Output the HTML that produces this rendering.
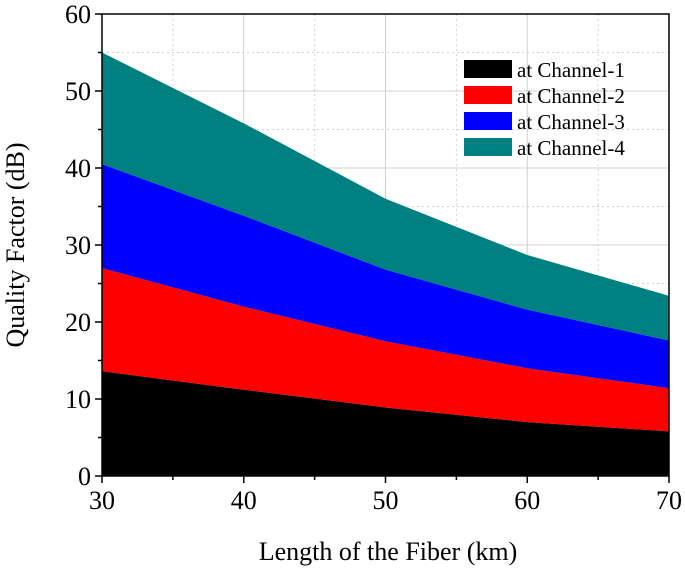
<!DOCTYPE html>
<html><head><meta charset="utf-8"><style>
html,body{margin:0;padding:0;background:#fff;}
svg{display:block;font-family:"Liberation Serif",serif;}
</style></head><body>
<svg id="chart" width="685" height="571" xmlns="http://www.w3.org/2000/svg">
<g id="grid"></g>
<g id="areas"></g>
<g id="axes"></g>
<g id="legend"></g>
<text x="388" y="560" font-size="26" text-anchor="middle">Length of the Fiber (km)</text>
<text transform="translate(24,245) rotate(-90)" font-size="26" text-anchor="middle">Quality Factor (dB)</text>
</svg>
<script>
const xValues=[30,40,50,60,70];
const ch1=[13.6,11.2,8.9,7.0,5.8];
const ch2=[13.4,10.8,8.6,7.0,5.6];
const ch3=[13.5,11.8,9.3,7.6,6.2];
const ch4=[14.5,12.0,9.2,7.1,5.8];
const seriesNames=["at Channel-1","at Channel-2","at Channel-3","at Channel-4"];
const xTicks=[30,40,50,60,70];
const yTicks=[0,10,20,30,40,50,60];
const colors=["#000000","#ff0000","#0000ff","#008080"];
const L=102,R=669,T=14,B=476;
const sx=v=>L+(v-30)/40*(R-L);
const sy=v=>B-v/60*(B-T);
const NS="http://www.w3.org/2000/svg";
function mk(tag,attrs,parent){const e=document.createElementNS(NS,tag);for(const k in attrs)e.setAttribute(k,attrs[k]);parent.appendChild(e);return e;}
const grid=document.getElementById('grid');
for(let v=30;v<=70;v+=5){const l=mk('line',{x1:sx(v),x2:sx(v),y1:T,y2:B,stroke:'#d0d0d0','stroke-width':1,'stroke-dasharray':v%10?'2,3':'none'},grid);

}
for(let v=0;v<=60;v+=5){const l=mk('line',{x1:L,x2:R,y1:sy(v),y2:sy(v),stroke:'#d0d0d0','stroke-width':1,'stroke-dasharray':v%10?'2,3':'none'},grid);

}
const series=[ch1,ch2,ch3,ch4];
const areas=document.getElementById('areas');
let base=xValues.map(()=>0);
series.forEach((s,i)=>{
  const top=s.map((v,j)=>base[j]+v);
  let d='M'+xValues.map((x,j)=>sx(x)+','+sy(top[j])).join(' L');
  for(let j=xValues.length-1;j>=0;j--)d+=' L'+sx(xValues[j])+','+sy(base[j]);
  d+='Z';
  const p=mk('path',{d:d,fill:colors[i]},areas);
  
  
  base=top;
});
const axes=document.getElementById('axes');
const frame=mk('rect',{x:L,y:T,width:R-L,height:B-T,fill:'none',stroke:'#000','stroke-width':1.5},axes);


for(let v=30;v<=70;v+=5){const big=v%10===0;
 const t=mk('line',{x1:sx(v),x2:sx(v),y1:B,y2:B+(big?7:4),stroke:'#000','stroke-width':1.5},axes);
 
 }
xTicks.forEach(v=>{const t=mk('text',{x:sx(v),y:B+33,'font-size':26,'text-anchor':'middle'},axes);t.textContent=v;
 
 });
for(let v=0;v<=60;v+=5){const big=v%10===0;
 const t=mk('line',{x1:L-(big?7:4),x2:L,y1:sy(v),y2:sy(v),stroke:'#000','stroke-width':1.5},axes);
 
 }
yTicks.forEach(v=>{const t=mk('text',{x:L-11,y:sy(v)+9,'font-size':26,'text-anchor':'end'},axes);t.textContent=v;
 
 });
const legend=document.getElementById('legend');
seriesNames.forEach((n,i)=>{
 const y=60+i*26;
 const r=mk('rect',{x:464,y:y,width:48,height:18,fill:colors[i]},legend);
 
 
 const t=mk('text',{x:517,y:y+17,'font-size':21},legend);t.textContent=n;
 
 
});
</script>
</body></html>
